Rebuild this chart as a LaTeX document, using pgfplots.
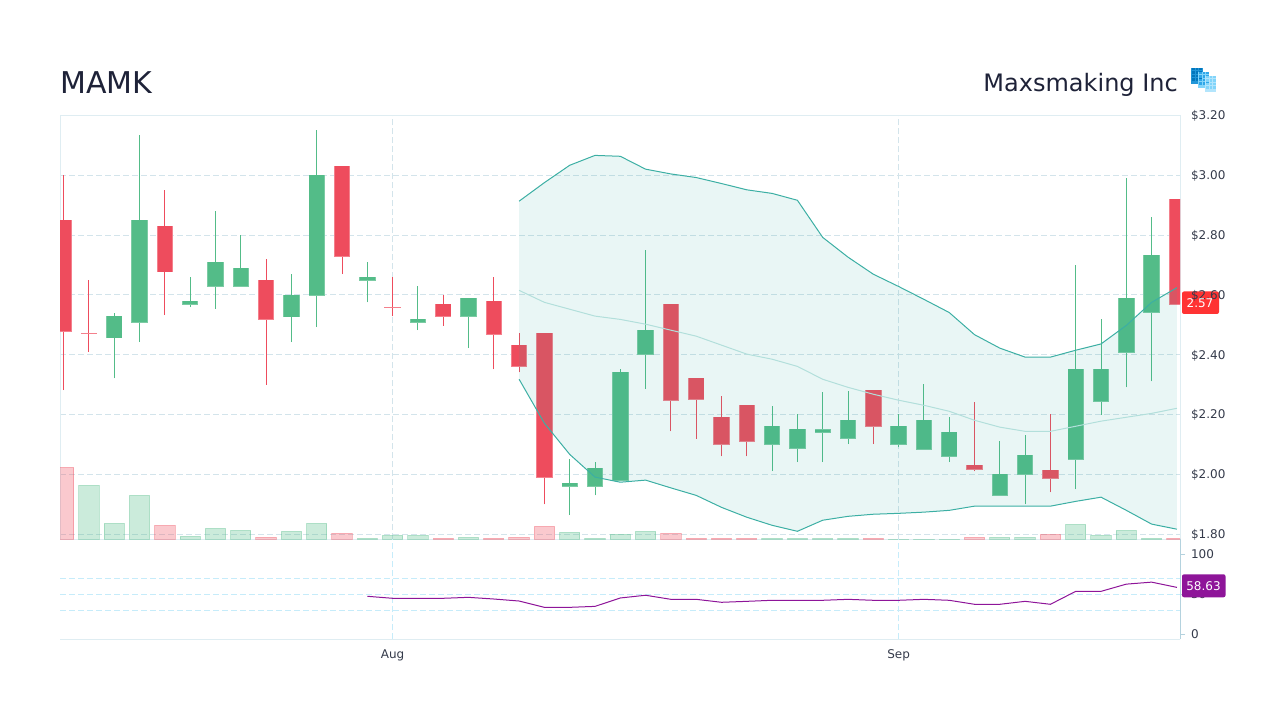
\documentclass[border=0pt]{standalone}
\usepackage{fontspec}
\usepackage{pgfplots}
\usepackage{pgfplotstable}
\pgfplotsset{compat=1.18}
\setmainfont{DejaVu Sans}

\definecolor{upc}{HTML}{53BC88}
\definecolor{upb}{HTML}{7CCBA4}
\definecolor{dnc}{HTML}{EE4C5D}
\definecolor{dnb}{HTML}{F4808C}
\definecolor{band}{HTML}{26A69A}
\definecolor{bandmid}{HTML}{B2DFDB}
\definecolor{gridc}{HTML}{D3E4EB}
\definecolor{gridr}{HTML}{C6ECFA}
\definecolor{framec}{HTML}{DFEDF2}
\definecolor{axisr}{HTML}{B4D2DE}
\definecolor{textc}{HTML}{343A4A}
\definecolor{titlec}{HTML}{1E2238}
\definecolor{rsic}{HTML}{8E1599}
\definecolor{pricelab}{HTML}{FF3333}
\definecolor{icona}{HTML}{2196D8}
\definecolor{iconb}{HTML}{0277BD}
\definecolor{iconc}{HTML}{81D4FA}
\definecolor{icond}{HTML}{2FA6E8}
\definecolor{icone}{HTML}{B3E5FC}

% wick from low to high, body from lo to hi, border drawn as a slightly larger bar
\newcommand{\candles}[3]{%
  \addplot[draw=none, mark=none, error bars/.cd, y dir=plus, y explicit, error mark=none,
    error bar style={draw=#2, line width=1pt, solid}]
    table[x=i, y=low, y error plus expr=\thisrow{high}-\thisrow{low}] {#1};
  \addplot[draw=none, mark=none, error bars/.cd, y dir=plus, y explicit, error mark=none,
    error bar style={draw=#3, line width=16.4pt, solid}]
    table[x=i, y expr=\thisrow{lo}-0.0017, y error plus expr=\thisrow{hi}-\thisrow{lo}+0.0034] {#1};
  \addplot[draw=none, mark=none, error bars/.cd, y dir=plus, y explicit, error mark=none,
    error bar style={draw=#2, line width=14.6pt, solid}]
    table[x=i, y=lo, y error plus expr=\thisrow{hi}-\thisrow{lo}] {#1};
}

% green days
\pgfplotstableread{
i  low   lo    hi    high
2  2.321 2.457 2.528 2.539
3  2.442 2.508 2.850 3.133
5  2.559 2.569 2.579 2.659
6  2.554 2.629 2.709 2.879
7  2.629 2.629 2.689 2.800
9  2.442 2.527 2.599 2.669
10 2.492 2.599 3.000 3.150
12 2.575 2.649 2.659 2.709
14 2.482 2.508 2.519 2.629
16 2.422 2.528 2.589 2.589
20 1.864 1.961 1.971 2.051
21 1.930 1.961 2.021 2.041
22 1.980 1.980 2.341 2.351
23 2.285 2.402 2.482 2.749
28 2.011 2.101 2.161 2.228
29 2.041 2.088 2.151 2.201
30 2.041 2.141 2.150 2.275
31 2.101 2.121 2.181 2.280
33 2.091 2.101 2.161 2.201
34 2.084 2.084 2.181 2.301
35 2.041 2.061 2.141 2.191
37 1.930 1.930 2.000 2.111
38 1.900 2.000 2.064 2.131
40 1.950 2.051 2.351 2.699
41 2.200 2.245 2.351 2.518
42 2.291 2.408 2.589 2.990
43 2.311 2.542 2.732 2.859
}\candleup

% red days
\pgfplotstableread{
i  low   lo    hi    high
0  2.282 2.478 2.850 3.000
1  2.410 2.472 2.472 2.649
4  2.532 2.678 2.829 2.950
8  2.300 2.519 2.649 2.719
11 2.669 2.729 3.030 3.030
13 2.528 2.559 2.559 2.659
15 2.497 2.528 2.569 2.599
17 2.351 2.468 2.579 2.659
18 2.341 2.361 2.432 2.472
19 1.900 1.991 2.472 2.472
24 2.144 2.248 2.569 2.569
25 2.120 2.251 2.321 2.321
26 2.060 2.101 2.191 2.261
27 2.060 2.111 2.231 2.231
32 2.101 2.161 2.281 2.281
36 2.010 2.017 2.031 2.241
39 1.940 1.987 2.014 2.201
44 2.569 2.569 2.919 2.919
}\candledn

% Bollinger bands
\pgfplotstableread{
i  upper lower mid
18 2.913 2.318 2.615
19 2.975 2.171 2.575
20 3.033 2.067 2.552
21 3.066 1.991 2.529
22 3.063 1.974 2.518
23 3.020 1.981 2.502
24 3.004 1.955 2.482
25 2.992 1.930 2.462
26 2.972 1.890 2.432
27 2.951 1.857 2.402
28 2.939 1.830 2.385
29 2.916 1.810 2.361
30 2.792 1.847 2.318
31 2.726 1.860 2.291
32 2.669 1.867 2.268
33 2.628 1.870 2.248
34 2.585 1.874 2.231
35 2.541 1.880 2.211
36 2.467 1.894 2.181
37 2.422 1.894 2.158
38 2.392 1.894 2.144
39 2.392 1.894 2.144
40 2.415 1.910 2.161
41 2.436 1.924 2.178
42 2.498 1.880 2.191
43 2.575 1.834 2.204
44 2.624 1.817 2.221
}\bbands

% outline of the band: upper edge, then lower edge backwards
\pgfplotstableread{
i y
18 2.913
19 2.975
20 3.033
21 3.066
22 3.063
23 3.020
24 3.004
25 2.992
26 2.972
27 2.951
28 2.939
29 2.916
30 2.792
31 2.726
32 2.669
33 2.628
34 2.585
35 2.541
36 2.467
37 2.422
38 2.392
39 2.392
40 2.415
41 2.436
42 2.498
43 2.575
44 2.624
44 1.817
43 1.834
42 1.880
41 1.924
40 1.910
39 1.894
38 1.894
37 1.894
36 1.894
35 1.880
34 1.874
33 1.870
32 1.867
31 1.860
30 1.847
29 1.810
28 1.830
27 1.857
26 1.890
25 1.930
24 1.955
23 1.981
22 1.974
21 1.991
20 2.067
19 2.171
18 2.318
}\bboutline

% volume, green days
\pgfplotstableread{
i v
1 54
2 16
3 44
5 3
6 11
7 9
9 8
10 16
12 1
13 4
14 4
16 2
20 7
21 1
22 5
23 8
28 1
29 1
30 1
31 1
33 0.3
34 0.3
35 0.3
37 2
38 2
40 15
41 4
42 9
43 1
}\volup

% volume, red days
\pgfplotstableread{
i v
0 72
4 14
8 2
11 6
15 1
17 1
18 2
19 13
24 6
25 1
26 1
27 1
32 1
36 2
39 5
44 1
}\voldn

\pgfplotstableread{
i rsi
12 47.5
13 45
14 45
15 45
16 46.2
17 44.1
18 41.6
19 33.7
20 33.7
21 34.9
22 45.4
23 48.8
24 43.7
25 43.7
26 40
27 41.2
28 42.5
29 42.5
30 42.5
31 43.7
32 42.5
33 42.5
34 43.7
35 42.5
36 37.5
37 37.5
38 41.2
39 37.5
40 53.7
41 53.7
42 62.7
43 65.2
44 58.63
}\rsi

\begin{document}
\begin{tikzpicture}[x=1pt,y=1pt]
\path[use as bounding box] (0,0) rectangle (1280,720);

% titles
\node[anchor=base west, inner sep=0pt, text=titlec, font=\fontsize{30}{36}\selectfont] at (60,626) {MAMK};
\node[anchor=base east, inner sep=0pt, text=titlec, font=\fontsize{24}{29}\selectfont] at (1178,628) {Maxsmaking Inc};

% company icon
\fill[icona] (1191,636) rectangle (1203,652);
\fill[iconc] (1198,632) rectangle (1209,648);
\fill[icone] (1205,628) rectangle (1216,644);
\foreach \c/\xa/\ya in {iconb/1192/639, icond/1199/635, iconc/1206/631}{
  \foreach \dx in {0,3.5,7}{
    \foreach \dy in {0,3.5,7,10.5}{
      \fill[\c] (\xa+\dx,\ya+\dy) rectangle ++(2.5,2.5);
    }
  }
}

% price label goes under the tick labels
\fill[pricelab, rounded corners=2pt] (1182,406) rectangle (1219,428.5);

% price pane
\begin{axis}[
  at={(60pt,180.5pt)}, anchor=south west,
  width=1120pt, height=424.2pt, scale only axis,
  xmin=-0.146, xmax=44.122, ymin=1.7826, ymax=3.2,
  axis line style={draw=framec, line width=1pt},
  xtick={13,33}, xticklabels={}, major tick length=0pt,
  xmajorgrids, ymajorgrids,
  grid style={draw=gridc, line width=1pt, dash pattern=on 6pt off 3pt},
  ytick={1.8,2,2.2,2.4,2.6,2.8,3,3.2},
  yticklabels={\$1.80,\$2.00,\$2.20,\$2.40,\$2.60,\$2.80,\$3.00,\$3.20},
  yticklabel pos=right,
  yticklabel style={text=textc, font=\fontsize{12}{14}\selectfont, anchor=west, xshift=7.5pt, yshift=-0.7pt},
]
\candles{\candleup}{upc}{upb}
\candles{\candledn}{dnc}{dnb}
\addplot[draw=none, fill=band, fill opacity=0.1] table[x=i,y=y] {\bboutline} -- cycle;
\addplot[band!90!white, line width=1pt] table[x=i,y=upper] {\bbands};
\addplot[band!90!white, line width=1pt] table[x=i,y=lower] {\bbands};
\addplot[bandmid, line width=1pt] table[x=i,y=mid] {\bbands};
\end{axis}

% volume in the bottom of the price pane
\begin{axis}[
  at={(60pt,180.5pt)}, anchor=south west,
  width=1120pt, height=424.2pt, scale only axis,
  xmin=-0.146, xmax=44.122, ymin=0, ymax=424.2,
  hide axis, ybar, bar width=20.3pt,
]
\addplot[bar shift=0pt, fill=upc, fill opacity=0.3, draw=upc, draw opacity=0.35, line width=1pt] table[x=i,y=v] {\volup};
\addplot[bar shift=0pt, fill=dnc, fill opacity=0.3, draw=dnc, draw opacity=0.35, line width=1pt] table[x=i,y=v] {\voldn};
\end{axis}

% RSI pane
\begin{axis}[
  at={(60pt,80.7pt)}, anchor=south west,
  width=1120pt, height=100pt, scale only axis,
  xmin=-0.146, xmax=44.122, ymin=-6.25, ymax=118.75,
  axis x line*=bottom, axis y line*=right,
  x axis line style={draw=framec, line width=1pt, -},
  y axis line style={draw=axisr, line width=1pt, -},
  tick align=outside,
  xtick={13,33}, xticklabels={Aug,Sep},
  xtick style={draw=none},
  xticklabel style={text=textc, font=\fontsize{12}{14}\selectfont, yshift=-2pt},
  xmajorgrids,
  major x grid style={draw=gridr, line width=1pt, dash pattern=on 6pt off 3pt},
  ytick={0,50,100}, yticklabels={0,50,100},
  minor ytick={30,50,70},
  yminorgrids,
  minor y grid style={draw=gridr, line width=1pt, dash pattern=on 6pt off 3pt},
  ytick style={draw=axisr, line width=1pt},
  major tick length=5pt, minor tick length=0pt,
  yticklabel style={text=textc, font=\fontsize{12}{14}\selectfont, anchor=west, xshift=2.5pt},
]
\addplot[rsic, line width=1pt] table[x=i,y=rsi] {\rsi};
\end{axis}

% last value of the RSI
\fill[rsic, rounded corners=2pt] (1182,122.7) rectangle (1225.5,145.7);
\node[text=white, inner sep=0pt, font=\fontsize{12}{14}\selectfont] at (1203.5,134) {58.63};
\node[text=white, inner sep=0pt, font=\fontsize{12}{14}\selectfont] at (1200,417) {2.57};
\end{tikzpicture}
\end{document}
